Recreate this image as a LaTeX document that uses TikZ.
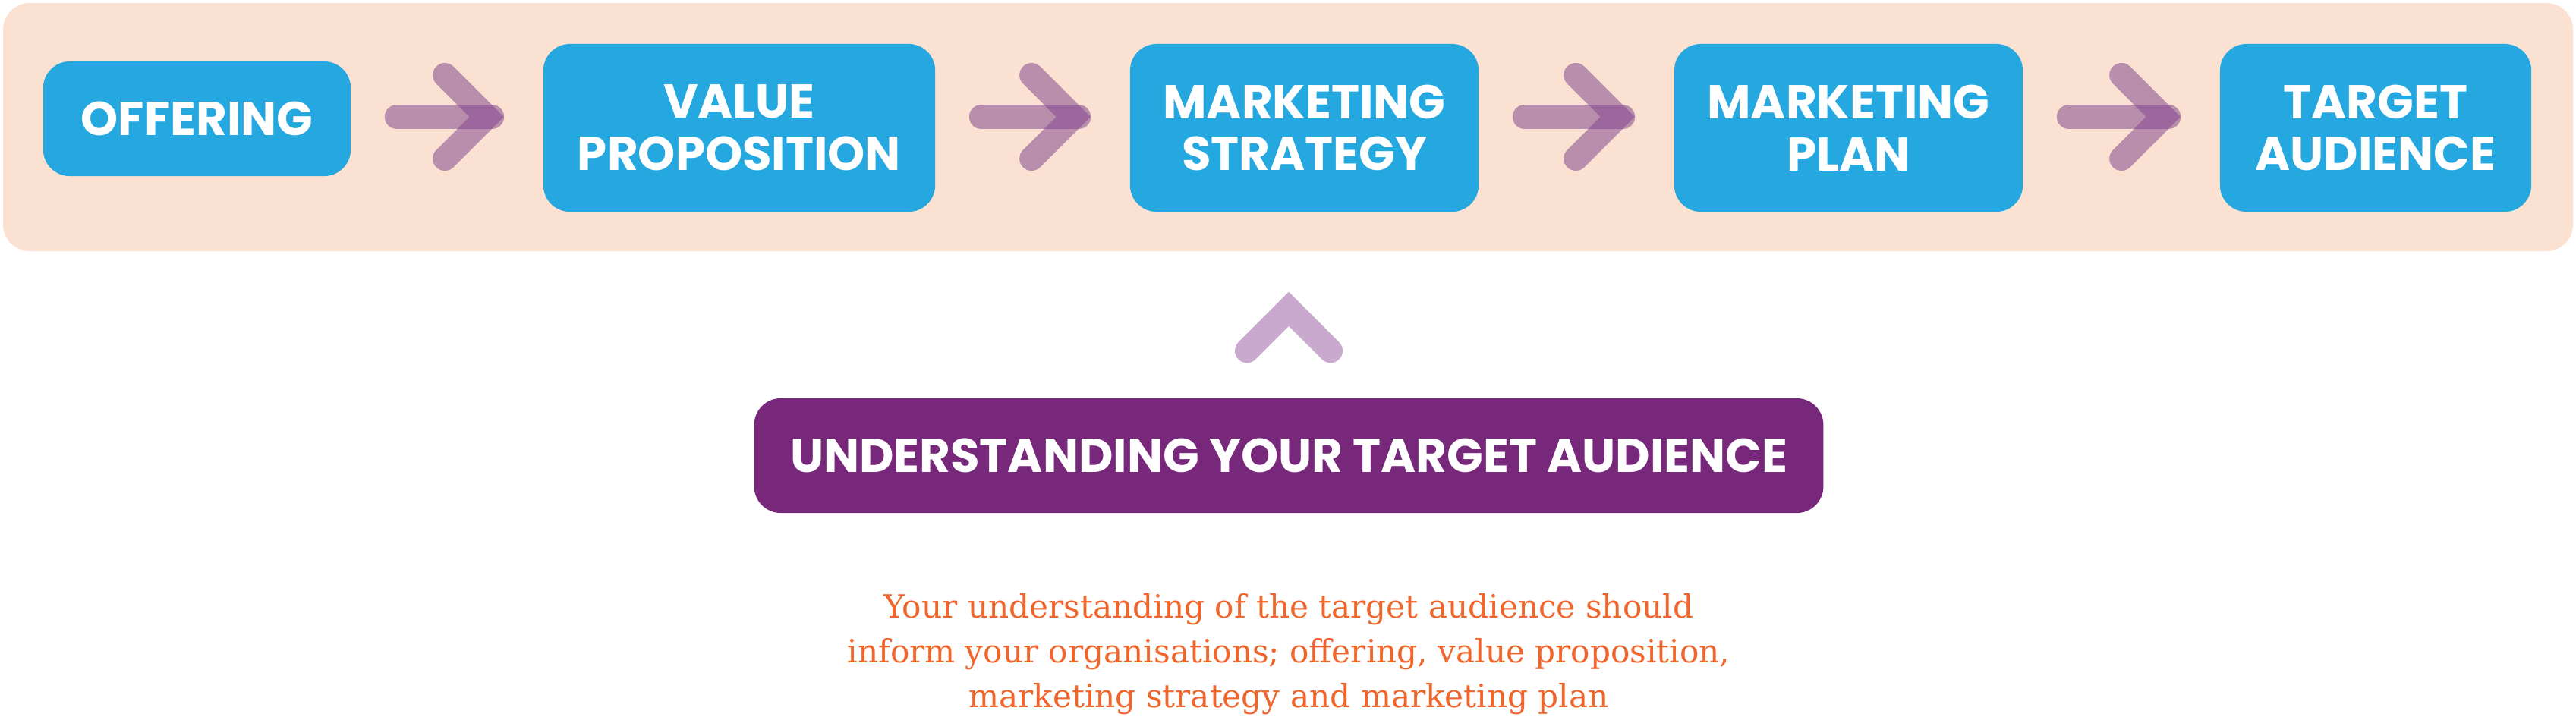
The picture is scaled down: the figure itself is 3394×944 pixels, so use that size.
\documentclass[tikz,border=0pt]{standalone}
\usepackage{fontspec}
\setmainfont{DejaVu Serif}
\newfontfamily\boxfont{Poppins}
\usetikzlibrary{calc}

\definecolor{peach}{HTML}{FAE1D1}
\definecolor{boxblue}{HTML}{25A8E0}
\definecolor{arrowpurple}{HTML}{85498F}
\definecolor{uppurple}{HTML}{C9AACE}
\definecolor{deeppurple}{HTML}{77287A}
\definecolor{notered}{HTML}{F0652B}

\begin{document}
\begin{tikzpicture}[x=0.01cm,y=-0.01cm,
  box/.style={fill=boxblue,rounded corners=0.35cm,text=white,align=center,inner sep=0pt,
    minimum height=2.21cm,font=\boxfont\bfseries\fontsize{17.8}{19.6}\selectfont},
  shaft/.style={draw=arrowpurple,opacity=0.55,line width=0.32cm,line cap=round},
  chev/.style={shaft,line join=miter}]

\useasboundingbox (0,0) rectangle (3394,944);

\fill[peach,rounded corners=0.35cm] (4,4) rectangle (3390,331);

\node[box,minimum width=4.05cm,minimum height=1.51cm] (off) at (259.5,156.5) {OFFERING};
\node[box,minimum width=5.16cm] (vp) at (974,168.5) {VALUE\\PROPOSITION};
\node[box,minimum width=4.59cm] (ms) at (1718.5,168.5) {MARKETING\\STRATEGY};
\node[box,minimum width=4.59cm] (mp) at (2435.5,168.5) {MARKETING\\PLAN};
\node[box,minimum width=4.10cm] (ta) at (3130,168.5) {TARGET\\AUDIENCE};

\node[box,fill=deeppurple,minimum width=14.08cm,minimum height=1.51cm] (und) at (1698,600.5) {UNDERSTANDING YOUR TARGET AUDIENCE};

% arrows along the row
\coordinate (row) at (0,154);
\foreach \a/\b in {off/vp,vp/ms,ms/mp,mp/ta}{
  \draw[shaft] ($(\a.east |- row)+(60,0)$) -- ($(\b.west |- row)+(-67,0)$);
  \draw[chev] ($(\b.west |- row)+(-129,-55)$) -- ($(\b.west |- row)+(-74,0)$) -- ($(\b.west |- row)+(-129,55)$);
}

\draw[chev,draw=uppurple,opacity=1] ($(und.north)+(-55,-62)$) -- ($(und.north)+(0,-117)$) -- ($(und.north)+(55,-62)$);

\node[text=notered,align=center,inner sep=0pt,font=\fontsize{12}{16.8}\selectfont] (note) at (1698,862)
  {Your understanding of the target audience should\\inform your organisations; offering, value proposition,\\marketing strategy and marketing plan};

\end{tikzpicture}
\end{document}
